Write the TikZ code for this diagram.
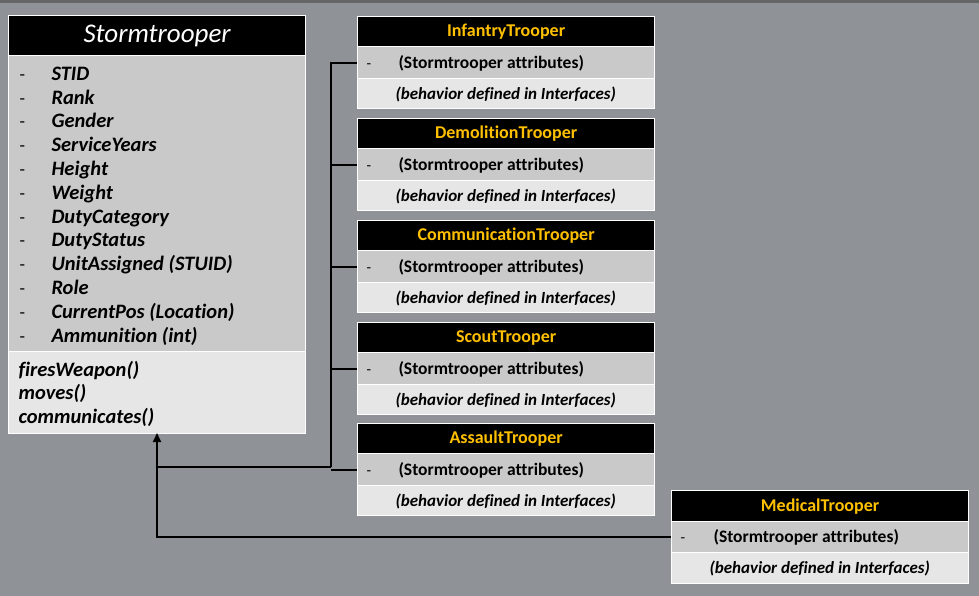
\documentclass[tikz,border=0pt]{standalone}
\usepackage{fontspec}
\setmainfont[Ligatures=NoCommon]{Carlito}
\usetikzlibrary{arrows.meta}
\definecolor{bg}{HTML}{8F9397}
\definecolor{rowa}{HTML}{C9C9C9}
\definecolor{rowb}{HTML}{E6E6E6}
\definecolor{gold}{HTML}{FFC000}
\begin{document}
\begin{tikzpicture}[x=1pt,y=-1pt,
  hdr/.style={draw=white,line width=1.2pt,fill=black,minimum width=297pt,anchor=north west,inner sep=0pt},
  rowbox/.style={draw=white,line width=1.2pt,minimum width=297pt,anchor=north west,inner sep=0pt},
  fix/.style={text height=0.8em,text depth=0.04em,yshift=-2.5pt},
  sm/.style={anchor=west,fix,font=\fontsize{17.5}{17.5}\selectfont\bfseries},
  dsh/.style={anchor=west,fix},
  conn/.style={line width=2pt,black}]
\fill[bg] (0,0) rectangle (979,596);
\fill[black!60] (0,0) rectangle (979,3);
% Stormtrooper class
\node[hdr,minimum height=40pt,font=\fontsize{27}{27}\selectfont\itshape,text=white] (sh) at (8,15) {Stormtrooper};
\node[rowbox,fill=rowa,minimum height=296pt] (sa) at (8,55) {};
\node[rowbox,fill=rowb,minimum height=82pt] (sm) at (8,351) {};
\foreach \t [count=\i from 0] in {STID,Rank,Gender,ServiceYears,Height,Weight,DutyCategory,DutyStatus,UnitAssigned (STUID),Role,CurrentPos (Location),Ammunition (int)}{
  \node[dsh,font=\fontsize{18}{18}\selectfont] (sd\i) at (16,74+23.8*\i) {-};
  \node[anchor=west,fix,font=\fontsize{20.5}{20.5}\selectfont\bfseries\itshape] (st\i) at (48,74+23.8*\i) {\t};
}
\foreach \t [count=\i from 0] in {firesWeapon(),moves(),communicates()}{
  \node[anchor=west,fix,font=\fontsize{20.5}{20.5}\selectfont\bfseries\itshape] (mt\i) at (15,370+23.6*\i) {\t};
}
% subclasses
\foreach \n/\t/\y in {inf/InfantryTrooper/16,dem/DemolitionTrooper/118,com/CommunicationTrooper/220,sco/ScoutTrooper/322,ass/AssaultTrooper/423}{
  \node[hdr,minimum height=30pt,font=\fontsize{18}{18}\selectfont\bfseries,text=gold] (\n h) at (357,\y) {\t};
  \node[rowbox,fill=rowa,minimum height=32pt] (\n a) at (357,\y+30) {};
  \node[rowbox,fill=rowb,minimum height=30pt] (\n b) at (357,\y+62) {};
  \node[dsh,font=\fontsize{15}{15}\selectfont] (\n d) at (363,\y+46) {-};
  \node[sm] (\n t) at (395,\y+46) {(Stormtrooper attributes)};
  \node[sm,font=\fontsize{17}{17}\selectfont\bfseries\itshape] (\n i) at (392,\y+77) {(behavior defined in Interfaces)};
}
\node[hdr,minimum height=31pt,font=\fontsize{18}{18}\selectfont\bfseries,text=gold] (medh) at (671,490) {MedicalTrooper};
\node[rowbox,fill=rowa,minimum height=31pt] (meda) at (671,521) {};
\node[rowbox,fill=rowb,minimum height=31pt] (medb) at (671,552) {};
\node[dsh,font=\fontsize{15}{15}\selectfont] (medd) at (677,536) {-};
\node[sm] (medt) at (710,536) {(Stormtrooper attributes)};
\node[sm,font=\fontsize{17}{17}\selectfont\bfseries\itshape] (medi) at (706,567) {(behavior defined in Interfaces)};
% connectors
\coordinate (bus) at (331,467);
\coordinate (tip) at (157,433);
\draw[conn] (infa.west) -| (bus);
\foreach \n in {dem,com,sco,ass}{\draw[conn] (\n a.west) -- (331,0 |- \n a.west);}
\draw[conn] (bus) -| (157,440);
\draw[conn] (meda.west) -| (157,440);
\draw[conn,-{Triangle[length=9pt,width=8pt]}] (157,445) -- (tip);
\end{tikzpicture}
\end{document}
